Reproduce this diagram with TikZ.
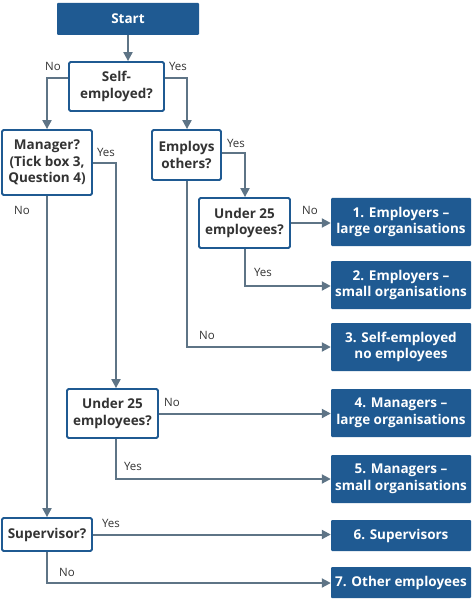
\documentclass[tikz,border=0pt]{standalone}
\usepackage{fontspec}
\setmainfont{Open Sans}
\usetikzlibrary{arrows.meta}
\definecolor{dblue}{HTML}{1F5A92}
\definecolor{lgray}{HTML}{5E7486}
\definecolor{tgray}{HTML}{333333}
\begin{document}
\begin{tikzpicture}[x=1pt,y=-1pt,
  qbox/.style={draw=dblue,line width=1.8pt,fill=white,rounded corners=1.5pt,text=tgray,font=\fontsize{13.5}{16.5}\selectfont\bfseries,align=center,inner sep=0pt},
  rbox/.style={fill=dblue,rounded corners=1pt,text=white,font=\fontsize{13.5}{16.5}\selectfont\bfseries,align=center,inner sep=0pt},
  conn/.style={draw=lgray,line width=2pt,-{Triangle[length=9pt,width=9pt]}},
  lbl/.style={text=tgray,font=\fontsize{11.5}{13}\selectfont,inner sep=0pt}]
\useasboundingbox (0,0) rectangle (474,601);
% nodes
\node[rbox,minimum width=142pt,minimum height=32pt] (start) at (128,19) {Start};
\node[qbox,minimum width=95pt,minimum height=49pt] (self) at (116.5,86.5) {Self-\\employed?};
\node[qbox,minimum width=90pt,minimum height=65pt] (mgr) at (47,162.5) {Manager?\\(Tick box 3,\\Question 4)};
\node[qbox,minimum width=69pt,minimum height=50pt] (emp) at (186.5,155) {Employs\\others?};
\node[qbox,minimum width=91pt,minimum height=50pt] (uta) at (244.5,223) {Under 25\\employees?};
\node[qbox,minimum width=91pt,minimum height=49pt] (utb) at (112.5,413.5) {Under 25\\employees?};
\node[qbox,minimum width=90pt,minimum height=33pt] (sup) at (47,534.5) {Supervisor?};
\node[rbox,minimum width=140pt,minimum height=48pt] (r1) at (401,222) {1. Employers –\\large organisations};
\node[rbox,minimum width=140pt,minimum height=48pt] (r2) at (401,285) {2. Employers –\\small organisations};
\node[rbox,minimum width=140pt,minimum height=48pt] (r3) at (401,347) {3. Self-employed\\no employees};
\node[rbox,minimum width=140pt,minimum height=48pt] (r4) at (401,413) {4. Managers –\\large organisations};
\node[rbox,minimum width=140pt,minimum height=48pt] (r5) at (401,479) {5. Managers –\\small organisations};
\node[rbox,minimum width=140pt,minimum height=31pt] (r6) at (401,535.5) {6. Supervisors};
\node[rbox,minimum width=140pt,minimum height=31pt] (r7) at (401,582.5) {7. Other employees};
% coordinates
\coordinate (c0) at (128,50);
\coordinate (c1) at (47,78);
\coordinate (c2) at (187,78);
\coordinate (c3) at (116,163);
\coordinate (c4) at (245,153);
\coordinate (c5) at (187,347);
\coordinate (c6) at (245,286);
\coordinate (c7) at (116,479);
\coordinate (c8) at (47,583);
% connectors
\draw[conn] (start.south -| c0) -- (self.north -| c0);
\draw[conn] (self.west |- c1) -- (c1) -- (mgr.north -| c1);
\draw[conn] (self.east |- c2) -- (c2) -- (emp.north -| c2);
\draw[conn] (mgr.east |- c3) -- (c3) -- (utb.north -| c3);
\draw[conn] (mgr.south) -- (sup.north);
\draw[conn] (emp.east |- c4) -- (c4) -- (uta.north -| c4);
\draw[conn] (emp.south -| c5) -- (c5) -- (r3.west |- c5);
\draw[conn] (uta.east) -- (r1.west |- uta.east);
\draw[conn] (uta.south -| c6) -- (c6) -- (r2.west |- c6);
\draw[conn] (utb.east) -- (r4.west |- utb.east);
\draw[conn] (utb.south -| c7) -- (c7) -- (r5.west |- c7);
\draw[conn] (sup.east) -- (r6.west |- sup.east);
\draw[conn] (sup.south -| c8) -- (c8) -- (r7.west |- c8);
% labels
\node[lbl] (l1) at (53,66) {No};
\node[lbl] (l2) at (178,66) {Yes};
\node[lbl] (l3) at (106,152) {Yes};
\node[lbl] (l4) at (22,210) {No};
\node[lbl] (l5) at (236,143) {Yes};
\node[lbl] (l6) at (207,335) {No};
\node[lbl] (l7) at (310,210) {No};
\node[lbl] (l8) at (263,272) {Yes};
\node[lbl] (l9) at (172,402) {No};
\node[lbl] (l10) at (133,466) {Yes};
\node[lbl] (l11) at (111,523) {Yes};
\node[lbl] (l12) at (67,572) {No};
\end{tikzpicture}
\end{document}
